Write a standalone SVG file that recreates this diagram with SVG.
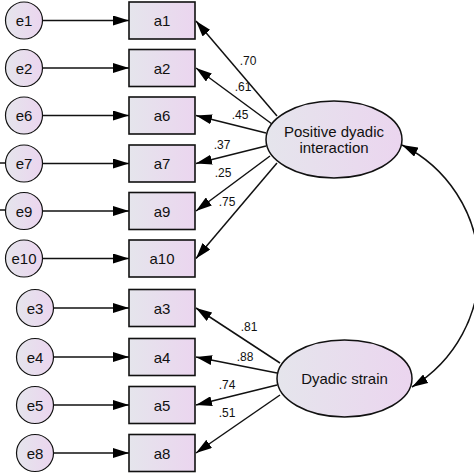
<svg xmlns="http://www.w3.org/2000/svg" width="474" height="474" viewBox="0 0 474 474">
<defs>
<linearGradient id="g" x1="0" y1="0" x2="1" y2="0">
<stop offset="0" stop-color="#e5e5ec"/>
<stop offset="1" stop-color="#ebd5ef"/>
</linearGradient>
<marker id="ah" markerUnits="userSpaceOnUse" markerWidth="18" markerHeight="10" refX="16" refY="5" orient="auto-start-reverse">
<path d="M0,0 L16,5 L0,10 Z" fill="#000"/>
</marker>
<style>
.box{fill:url(#g);stroke:#111;stroke-width:1.6}
.cir{fill:url(#g);stroke:#111;stroke-width:1.2}
.ell{fill:url(#g);stroke:#111;stroke-width:1.5}
.t{font-family:"Liberation Sans",Arial,sans-serif;font-size:15px;fill:#111;text-anchor:middle}
.l{font-family:"Liberation Sans",Arial,sans-serif;font-size:12px;fill:#111;text-anchor:middle}
.c{stroke:#111;stroke-width:1.5;fill:none;marker-end:url(#ah)}
</style>
</defs>
<g id="connectors">
<line x1="0" y1="163" x2="5" y2="163" stroke="#111" stroke-width="1.5"/>
<line x1="0" y1="210" x2="5" y2="210" stroke="#111" stroke-width="1.5"/>
<line class="c" x1="43" y1="20.5" x2="129" y2="20.5"/>
<line class="c" x1="43" y1="68" x2="129" y2="68"/>
<line class="c" x1="43" y1="115.5" x2="129" y2="115.5"/>
<line class="c" x1="43" y1="163.5" x2="129" y2="163.5"/>
<line class="c" x1="43" y1="211" x2="129" y2="211"/>
<line class="c" x1="43" y1="258.5" x2="129" y2="258.5"/>
<line class="c" x1="54" y1="308" x2="129" y2="308"/>
<line class="c" x1="54" y1="357" x2="129" y2="357"/>
<line class="c" x1="54" y1="405" x2="129" y2="405"/>
<line class="c" x1="54" y1="453" x2="129" y2="453"/>
<line class="c" x1="277" y1="116" x2="196" y2="21"/>
<line class="c" x1="272" y1="124" x2="196" y2="68"/>
<line class="c" x1="266" y1="133" x2="196" y2="115.5"/>
<line class="c" x1="266" y1="146" x2="196" y2="163.5"/>
<line class="c" x1="270" y1="156" x2="196" y2="211"/>
<line class="c" x1="277" y1="163" x2="196" y2="258.5"/>
<line class="c" x1="280" y1="363" x2="196" y2="308"/>
<line class="c" x1="277" y1="373" x2="196" y2="357"/>
<line class="c" x1="277" y1="385" x2="196" y2="405"/>
<line class="c" x1="280" y1="395" x2="196" y2="453"/>
<path class="c" d="M402,145 A138,138 0 0 1 412,387" style="marker-start:url(#ah)"/>
<text class="l" x="248" y="65">.70</text>
<text class="l" x="243" y="91">.61</text>
<text class="l" x="240" y="119">.45</text>
<text class="l" x="222" y="149">.37</text>
<text class="l" x="223" y="177">.25</text>
<text class="l" x="227" y="206">.75</text>
<text class="l" x="249" y="331">.81</text>
<text class="l" x="245" y="361">.88</text>
<text class="l" x="227" y="389">.74</text>
<text class="l" x="227" y="417">.51</text>
</g>
<g id="e1"><circle class="cir" cx="24" cy="20.5" r="18.5"/><text class="t" x="24" y="26">e1</text></g>
<g id="e2"><circle class="cir" cx="24" cy="68" r="18.5"/><text class="t" x="24" y="73.5">e2</text></g>
<g id="e6"><circle class="cir" cx="24" cy="115.5" r="18.5"/><text class="t" x="24" y="121">e6</text></g>
<g id="e7"><circle class="cir" cx="24" cy="163.5" r="18.5"/><text class="t" x="24" y="169">e7</text></g>
<g id="e9"><circle class="cir" cx="24" cy="211" r="18.5"/><text class="t" x="24" y="216.5">e9</text></g>
<g id="e10"><circle class="cir" cx="24" cy="258.5" r="18.5"/><text class="t" x="24" y="264">e10</text></g>
<g id="e3"><circle class="cir" cx="35" cy="308" r="18.5"/><text class="t" x="35" y="313.5">e3</text></g>
<g id="e4"><circle class="cir" cx="35" cy="357" r="18.5"/><text class="t" x="35" y="362.5">e4</text></g>
<g id="e5"><circle class="cir" cx="35" cy="405" r="18.5"/><text class="t" x="35" y="410.5">e5</text></g>
<g id="e8"><circle class="cir" cx="35" cy="453" r="18.5"/><text class="t" x="35" y="458.5">e8</text></g>
<g id="a1"><rect class="box" x="129" y="2" width="66" height="37"/><text class="t" x="162" y="26">a1</text></g>
<g id="a2"><rect class="box" x="129" y="49.5" width="66" height="37"/><text class="t" x="162" y="73.5">a2</text></g>
<g id="a6"><rect class="box" x="129" y="97" width="66" height="37"/><text class="t" x="162" y="121">a6</text></g>
<g id="a7"><rect class="box" x="129" y="145" width="66" height="37"/><text class="t" x="162" y="169">a7</text></g>
<g id="a9"><rect class="box" x="129" y="192.5" width="66" height="37"/><text class="t" x="162" y="216.5">a9</text></g>
<g id="a10"><rect class="box" x="129" y="240" width="66" height="37"/><text class="t" x="162" y="264">a10</text></g>
<g id="a3"><rect class="box" x="129" y="289.5" width="66" height="37"/><text class="t" x="162" y="313.5">a3</text></g>
<g id="a4"><rect class="box" x="129" y="338.5" width="66" height="37"/><text class="t" x="162" y="362.5">a4</text></g>
<g id="a5"><rect class="box" x="129" y="386.5" width="66" height="37"/><text class="t" x="162" y="410.5">a5</text></g>
<g id="a8"><rect class="box" x="129" y="434.5" width="66" height="37"/><text class="t" x="162" y="458.5">a8</text></g>
<g id="positive"><ellipse class="ell" cx="334" cy="139.5" rx="68" ry="38.5"/><text class="t" x="334" y="137">Positive dyadic</text><text class="t" x="334" y="153">interaction</text></g>
<g id="strain"><ellipse class="ell" cx="344.5" cy="378.5" rx="67.5" ry="38.5"/><text class="t" x="344.5" y="384">Dyadic strain</text></g>
</svg>
